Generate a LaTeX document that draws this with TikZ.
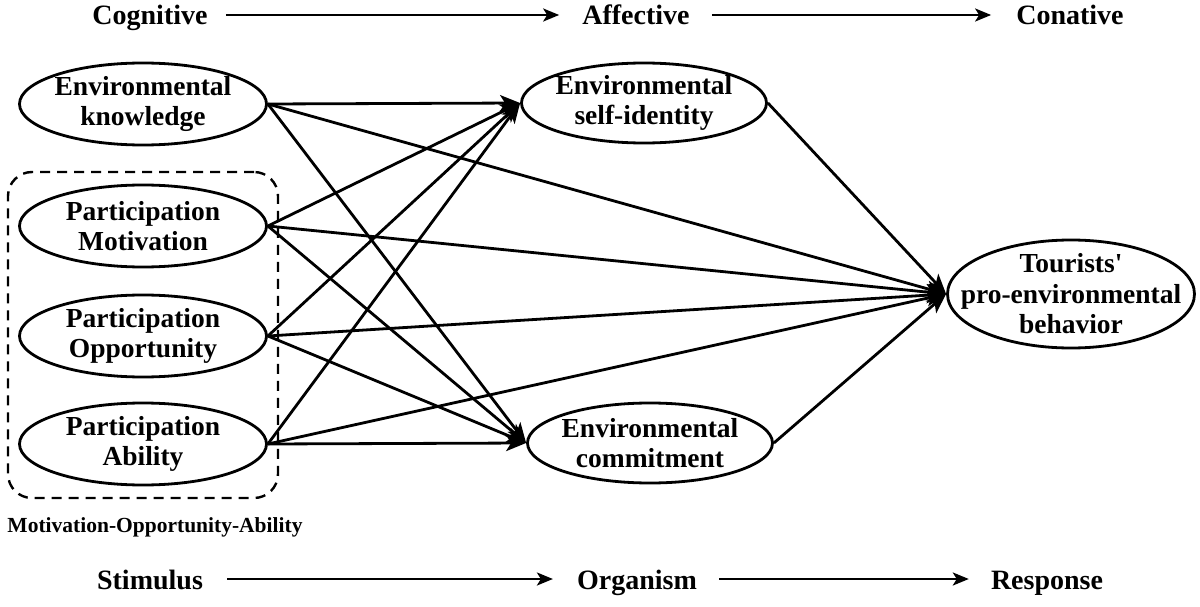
\documentclass[tikz,border=0pt]{standalone}
\usepackage{fontspec}
\setmainfont{Liberation Serif}
\usetikzlibrary{shapes.geometric,arrows.meta}
\begin{document}
\begin{tikzpicture}[x=1pt,y=-1pt,
  ell/.style={ellipse,draw,line width=2.8pt,minimum width=247pt,minimum height=82pt,inner sep=0pt},
  etxt/.style={align=center,inner sep=0pt,font=\bfseries\fontsize{27.5}{30.5}\selectfont},
  lbl/.style={font=\bfseries\fontsize{28}{30}\selectfont,inner sep=0pt,anchor=base},
  link/.style={line width=2.8pt,-{Stealth[length=20pt,width=16pt,inset=5pt]}},
  flow/.style={line width=2.6pt,-{Stealth[length=16pt,width=13pt,inset=4pt]}}]
\useasboundingbox[fill=white] (0,0) rectangle (1200,607);

% top row
\node[lbl] (cog) at (150,25) {Cognitive};
\node[lbl] (aff) at (636,25) {Affective};
\node[lbl] (con) at (1070,25) {Conative};
\draw[flow] ([xshift=18pt,yshift=10pt]cog.base east) -- ([xshift=-23pt,yshift=10pt]aff.base west);
\draw[flow] ([xshift=22pt,yshift=10pt]aff.base east) -- ([xshift=-25pt,yshift=10pt]con.base west);

% bottom row
\node[lbl] (sti) at (150,589) {Stimulus};
\node[lbl] (org) at (637,589) {Organism};
\node[lbl] (res) at (1047,589) {Response};
\draw[flow] ([xshift=24pt,yshift=10pt]sti.base east) -- ([xshift=-24pt,yshift=10pt]org.base west);
\draw[flow] ([xshift=22pt,yshift=10pt]org.base east) -- ([xshift=-22pt,yshift=10pt]res.base west);

% MOA box
\node[draw,dashed,line width=2.4pt,dash pattern=on 10pt off 7pt,rounded corners=24pt,
      minimum width=270pt,minimum height=326pt,inner sep=0pt] (moa) at (143,335) {};
\node[inner sep=0pt,font=\bfseries\fontsize{21.5}{24}\selectfont] (moalbl) at (155,527) {Motivation-Opportunity-Ability};

% ellipses
\node[ell] (know) at (143,104) {};
\node[etxt] (knowt) at (know) {Environmental\\knowledge};
\node[ell] (mot) at (143,226) {};
\node[etxt] (mott) at (mot) {Participation\\Motivation};
\node[ell] (opp) at (143,336) {};
\node[etxt] (oppt) at (opp) {Participation\\Opportunity};
\node[ell] (abi) at (143,444) {};
\node[etxt] (abit) at (abi) {Participation\\Ability};
\node[ell,minimum width=245pt,minimum height=80pt] (self) at (644,103) {};
\node[etxt] (selft) at (self) {Environmental\\self-identity};
\node[ell,minimum width=245pt,minimum height=80pt] (comm) at (650,443) {};
\node[etxt] (commt) at (comm) {Environmental\\commitment};
\node[ell,minimum height=108pt] (tour) at (1071,294) {};
\node[etxt] (tourt) at (tour) {Tourists\textquotesingle\\pro-environmental\\behavior};

% links
\foreach \s in {know,mot,opp,abi}{
  \draw[link] (\s.east) -- (self.west);
  \draw[link] (\s.east) -- (comm.west);
  \draw[link] (\s.east) -- (tour.west);
}
\draw[link] (self.east) -- (tour.west);
\draw[link] (comm.east) -- (tour.west);
\end{tikzpicture}
\end{document}
